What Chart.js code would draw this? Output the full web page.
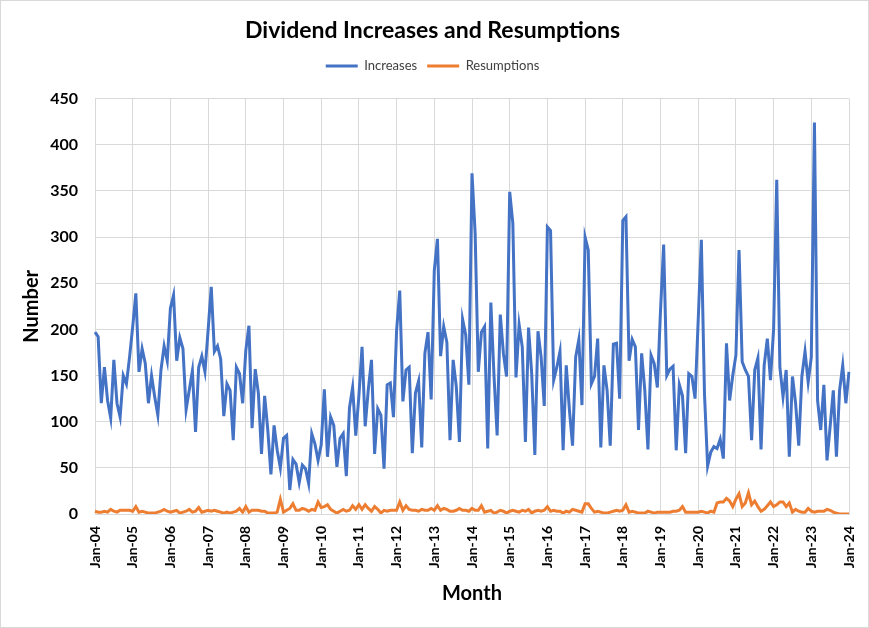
<!DOCTYPE html>
<html lang="en">
<head>
    <meta charset="UTF-8">
    <title>Dividend Increases and Resumptions</title>
    <script src="https://cdn.jsdelivr.net/npm/chart.js"></script>
    <style>
        body { margin: 0; background: #fff; }
        .frame { width: 869px; height: 628px; box-sizing: border-box; border: 1px solid #d9d9d9; }
    </style>
</head>
<body>
    <div class="frame">
        <canvas id="divChart" width="867" height="626"></canvas>
    </div>

    <script>
        var monthNames = ['Jan', 'Feb', 'Mar', 'Apr', 'May', 'Jun', 'Jul', 'Aug', 'Sep', 'Oct', 'Nov', 'Dec'];
        var firstYear = 2004;
        var lastYear = 2024;
        var yTicks = [0, 50, 100, 150, 200, 250, 300, 350, 400, 450];

        // monthly counts, Jan-04 .. Jan-24
        var increases = [
            197, 192, 120, 159, 123, 104, 167, 120, 105, 150, 141, 170,
            203, 239, 154, 179, 163, 120, 150, 127, 107, 156, 182, 166,
            223, 237, 166, 191, 179, 113, 134, 155, 89, 159, 171, 154,
            199, 246, 176, 182, 168, 106, 141, 134, 80, 159, 152, 120,
            177, 204, 93, 157, 131, 65, 128, 91, 43, 96, 69, 50,
            82, 85, 26, 59, 54, 34, 53, 49, 33, 87, 76, 58,
            75, 135, 62, 105, 96, 51, 82, 87, 41, 115, 137, 85,
            128, 181, 95, 135, 167, 65, 114, 107, 49, 140, 142, 105,
            199, 242, 122, 156, 159, 66, 131, 144, 72, 174, 197, 124,
            264, 298, 171, 203, 186, 80, 167, 138, 78, 211, 194, 140,
            369, 304, 154, 197, 203, 71, 229, 150, 85, 216, 174, 149,
            349, 315, 148, 205, 181, 78, 202, 152, 64, 198, 170, 117,
            311, 307, 145, 159, 176, 69, 161, 113, 74, 170, 189, 118,
            300, 286, 141, 149, 190, 72, 161, 134, 74, 184, 185, 125,
            318, 322, 166, 189, 181, 91, 174, 134, 70, 172, 163, 137,
            220, 292, 150, 157, 160, 69, 140, 128, 66, 152, 149, 125,
            210, 297, 130, 52, 67, 73, 71, 81, 60, 185, 123, 150,
            172, 286, 165, 156, 149, 80, 156, 169, 70, 161, 190, 145,
            200, 362, 159, 127, 156, 62, 149, 120, 74, 149, 176, 143,
            170, 424, 123, 91, 140, 58, 95, 134, 62, 134, 161, 120,
            154
        ];

        var resumptions = [
            3, 2, 2, 3, 2, 5, 3, 2, 4, 4, 4, 4,
            3, 8, 2, 3, 2, 1, 1, 1, 2, 3, 5, 3,
            2, 3, 4, 1, 2, 3, 5, 2, 3, 7, 2, 3,
            4, 3, 4, 3, 2, 1, 2, 1, 2, 3, 6, 2,
            8, 2, 4, 4, 4, 3, 3, 1, 1, 1, 2, 16,
            2, 4, 6, 11, 4, 4, 6, 5, 3, 5, 4, 13,
            7, 8, 10, 5, 3, 1, 3, 5, 3, 4, 9, 5,
            10, 5, 10, 6, 3, 8, 5, 1, 4, 3, 4, 4,
            4, 13, 4, 9, 5, 4, 4, 3, 5, 4, 4, 6,
            4, 9, 4, 6, 5, 3, 3, 4, 6, 4, 4, 3,
            6, 4, 4, 9, 2, 3, 4, 1, 2, 4, 3, 1,
            3, 4, 3, 2, 4, 3, 5, 1, 3, 4, 3, 4,
            8, 3, 4, 3, 3, 1, 3, 2, 5, 4, 3, 2,
            11, 11, 6, 2, 3, 2, 1, 1, 2, 3, 4, 3,
            4, 10, 2, 3, 2, 1, 1, 1, 3, 2, 1, 2,
            2, 2, 2, 2, 3, 3, 4, 8, 2, 2, 2, 2,
            2, 3, 2, 1, 3, 2, 12, 13, 13, 17, 14, 8,
            16, 22, 8, 12, 23, 10, 14, 8, 3, 5, 9, 13,
            8, 10, 13, 13, 8, 12, 2, 5, 3, 2, 2, 6,
            3, 2, 3, 3, 3, 5, 4, 2, 1, 0, 0, 0,
            0
        ];

        var labels = [];
        for (var y = firstYear; y <= lastYear; y++) {
            for (var m = 0; m < 12; m++) {
                if (y === lastYear && m > 0) break;
                labels.push(monthNames[m] + '-' + String(y).slice(2));
            }
        }

        var fontFamily = 'Lato, "Open Sans", sans-serif';
        var gridGrey = '#d9d9d9';

        // push the plot area down below the legend
        var legendGap = {
            id: 'legendGap',
            beforeInit: function (chart) {
                var fit = chart.legend.fit;
                chart.legend.fit = function () {
                    fit.bind(chart.legend)();
                    this.height += 16;
                };
            }
        };

        var ctx = document.getElementById('divChart').getContext('2d');
        var divChart = new Chart(ctx, {
            type: 'line',
            data: {
                labels: labels,
                datasets: [{
                    label: 'Increases',
                    data: increases,
                    borderColor: '#4472C4',
                    backgroundColor: '#4472C4',
                    borderWidth: 3,
                    pointRadius: 0,
                    tension: 0
                }, {
                    label: 'Resumptions',
                    data: resumptions,
                    borderColor: '#ED7D31',
                    backgroundColor: '#ED7D31',
                    borderWidth: 3,
                    pointRadius: 0,
                    tension: 0
                }]
            },
            options: {
                responsive: false,
                animation: false,
                layout: { padding: { left: 15, right: 19, top: 0, bottom: 17 } },
                plugins: {
                    title: {
                        display: true,
                        text: 'Dividend Increases and Resumptions',
                        color: '#000',
                        font: { family: fontFamily, size: 23, weight: 'bold' },
                        padding: { top: 16, bottom: 5 }
                    },
                    legend: {
                        position: 'top',
                        labels: {
                            color: '#404040',
                            font: { family: fontFamily, size: 13 },
                            usePointStyle: true,
                            pointStyle: 'line',
                            pointStyleWidth: 32,
                            padding: 10
                        }
                    },
                    tooltip: { enabled: false }
                },
                scales: {
                    x: {
                        offset: false,
                        afterFit: function (scale) {
                            scale.height = 96;
                            // rotated end labels should not shrink the plot
                            scale.paddingLeft = 0;
                            scale.paddingRight = 0;
                        },
                        grid: {
                            drawTicks: false,
                            color: function (c) { return c.index % 12 === 0 ? gridGrey : 'rgba(0,0,0,0)'; }
                        },
                        border: { color: gridGrey },
                        ticks: {
                            autoSkip: false,
                            maxRotation: 90,
                            minRotation: 90,
                            padding: 12,
                            color: '#000',
                            font: { family: fontFamily, size: 14, weight: 'bold' },
                            callback: function (val, i) { return i % 12 === 0 ? this.getLabelForValue(val) : ''; }
                        },
                        title: {
                            display: true,
                            text: 'Month',
                            color: '#000',
                            font: { family: fontFamily, size: 20, weight: 'bold' },
                            padding: { top: 4, bottom: 4 }
                        }
                    },
                    y: {
                        min: 0,
                        max: 450,
                        afterFit: function (scale) { scale.width = 79; },
                        afterBuildTicks: function (scale) {
                            scale.ticks = yTicks.map(function (v) { return { value: v }; });
                        },
                        grid: { drawTicks: false, color: gridGrey },
                        border: { display: false },
                        ticks: {
                            padding: 17,
                            color: '#000',
                            font: { family: fontFamily, size: 16, weight: 'bold' }
                        },
                        title: {
                            display: true,
                            text: 'Number',
                            color: '#000',
                            font: { family: fontFamily, size: 20, weight: 'bold' },
                            padding: { top: 4, bottom: 4 }
                        }
                    }
                }
            },
            plugins: [legendGap]
        });
    </script>
</body>
</html>
